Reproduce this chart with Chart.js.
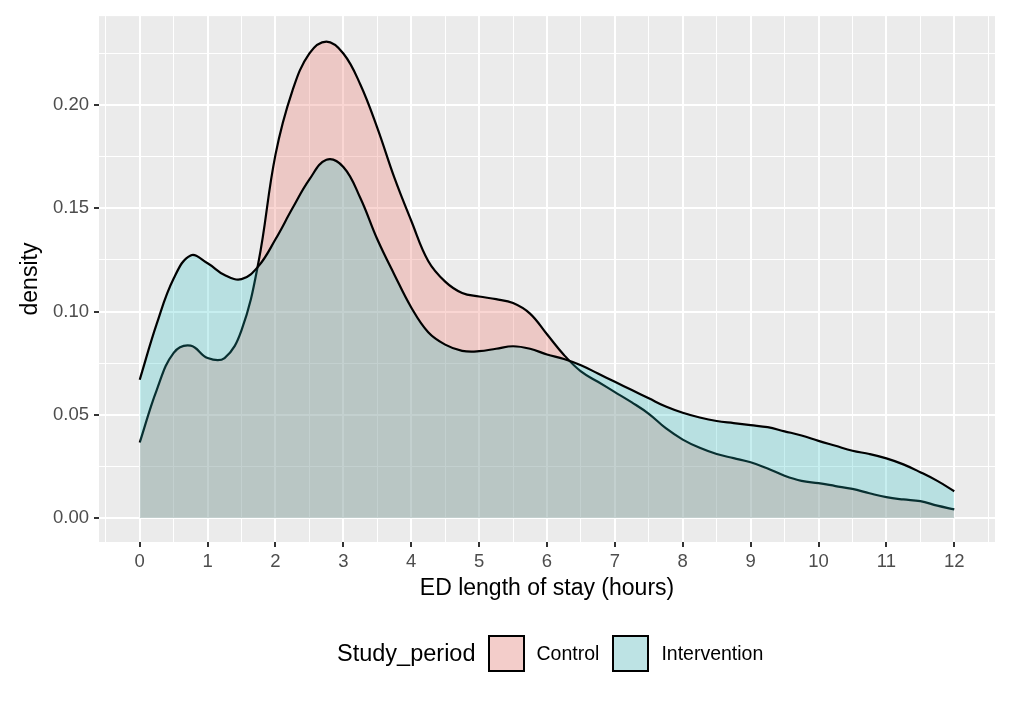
<!DOCTYPE html>
<html lang="en">
<head>
  <meta charset="UTF-8" />
  <title>ED length of stay density</title>
  <script src="https://cdn.jsdelivr.net/npm/chart.js"></script>
  <style>
    * { margin: 0; padding: 0; box-sizing: border-box; }
    body {
      background: #fff;
      width: 1023px;
      height: 707px;
      position: relative;
      font-family: 'Liberation Sans', Arial, sans-serif;
      overflow: hidden;
    }
    #chart { position: absolute; left: 0; top: 0; }
    .legend {
      position: absolute;
      top: 635px;
      left: 337px;
      height: 37px;
      display: flex;
      align-items: center;
      color: #000;
    }
    .legend .title { font-size: 23.5px; margin-right: 12px; }
    .legend .key {
      width: 37px;
      height: 37px;
      border: 2px solid #000;
      margin-right: 12px;
    }
    .legend .lab { font-size: 19.5px; margin-right: 13px; }
  </style>
</head>
<body>
  <canvas id="chart" width="1023" height="707"></canvas>
  <div class="legend">
    <span class="title">Study_period</span>
    <span class="key" style="background:#F3CDCA"></span>
    <span class="lab">Control</span>
    <span class="key" style="background:#BDE3E4"></span>
    <span class="lab">Intervention</span>
  </div>

  <script>
    const hours = [0, 0.25, 0.5, 0.75, 1, 1.25, 1.5, 1.75, 2, 2.25, 2.5, 2.75, 3, 3.25, 3.5, 3.75,
      4, 4.25, 4.5, 4.75, 5, 5.25, 5.5, 5.75, 6, 6.25, 6.5, 6.75, 7, 7.25, 7.5, 7.75,
      8, 8.25, 8.5, 8.75, 9, 9.25, 9.5, 9.75, 10, 10.25, 10.5, 10.75, 11, 11.25, 11.5, 11.75, 12];

    const controlDensity = [0.0366, 0.062, 0.080, 0.0835, 0.0775, 0.0775, 0.091, 0.124, 0.176, 0.207, 0.225, 0.2307, 0.225, 0.210, 0.189, 0.165,
      0.144, 0.1245, 0.1145, 0.109, 0.1073, 0.106, 0.1041, 0.099, 0.089, 0.079, 0.071, 0.066, 0.061, 0.056, 0.0505, 0.0435,
      0.038, 0.034, 0.031, 0.029, 0.027, 0.024, 0.0205, 0.018, 0.0169, 0.0155, 0.0141, 0.012, 0.0101, 0.009, 0.0082, 0.006, 0.0042];

    const interventionDensity = [0.067, 0.094, 0.116, 0.1272, 0.1234, 0.1177, 0.1157, 0.122, 0.135, 0.150, 0.164, 0.1735, 0.170, 0.155, 0.135, 0.118,
      0.102, 0.090, 0.084, 0.081, 0.0808, 0.082, 0.0832, 0.082, 0.0792, 0.077, 0.074, 0.070, 0.066, 0.062, 0.058, 0.054,
      0.051, 0.0487, 0.047, 0.046, 0.045, 0.044, 0.042, 0.040, 0.0374, 0.035, 0.0326, 0.031, 0.0289, 0.026, 0.0222, 0.018, 0.013];

    // grid positions: majors get labels, half steps are minor lines
    const xTicks = [-0.5, 0, 0.5, 1, 1.5, 2, 2.5, 3, 3.5, 4, 4.5, 5, 5.5, 6, 6.5, 7, 7.5, 8, 8.5, 9, 9.5, 10, 10.5, 11, 11.5, 12, 12.5];
    const yTicks = [0, 0.025, 0.05, 0.075, 0.1, 0.125, 0.15, 0.175, 0.2, 0.225];

    const isMajorX = v => Math.abs(v - Math.round(v)) < 1e-9;
    const isMajorY = v => Math.abs(v * 20 - Math.round(v * 20)) < 1e-9;

    const toPoints = ys => hours.map((h, i) => ({ x: h, y: ys[i] }));
    const FONT = "'Liberation Sans', Arial, sans-serif";

    const panelBg = {
      id: 'panelBg',
      beforeDraw(chart) {
        const { ctx, chartArea: a } = chart;
        ctx.save();
        ctx.fillStyle = '#EBEBEB';
        ctx.fillRect(a.left, a.top, a.right - a.left, a.bottom - a.top);
        ctx.restore();
      }
    };

    new Chart(document.getElementById('chart'), {
      type: 'line',
      data: {
        datasets: [
          {
            label: 'Control',
            data: toPoints(controlDensity),
            borderColor: '#000',
            borderWidth: 2.2,
            backgroundColor: 'rgba(240,118,110,0.3)',
            fill: 'origin',
            pointRadius: 0,
            tension: 0.4,
            order: 2
          },
          {
            label: 'Intervention',
            data: toPoints(interventionDensity),
            borderColor: '#000',
            borderWidth: 2.2,
            backgroundColor: 'rgba(30,191,196,0.25)',
            fill: 'origin',
            pointRadius: 0,
            tension: 0.4,
            order: 1
          }
        ]
      },
      options: {
        responsive: false,
        animation: false,
        devicePixelRatio: 1,
        layout: { padding: { left: 0, top: 16, right: 28, bottom: 103 } },
        plugins: {
          legend: { display: false },
          tooltip: { enabled: false }
        },
        scales: {
          x: {
            type: 'linear',
            min: -0.6,
            max: 12.6,
            afterBuildTicks: s => { s.ticks = xTicks.map(v => ({ value: v })); },
            afterFit: s => { s.height = 62; },
            border: { display: false },
            grid: {
              color: '#FFFFFF',
              lineWidth: c => (isMajorX(c.tick.value) ? 2 : 1),
              tickLength: 5,
              tickColor: c => (isMajorX(c.tick.value) ? '#333333' : 'rgba(0,0,0,0)')
            },
            ticks: {
              autoSkip: false,
              maxRotation: 0,
              padding: 4,
              color: '#4D4D4D',
              font: { family: FONT, size: 18.5 },
              callback: v => (isMajorX(v) && v >= 0 && v <= 12 ? String(v) : '')
            },
            title: {
              display: true,
              text: 'ED length of stay (hours)',
              color: '#000',
              padding: { top: 0, bottom: 2 },
              font: { family: FONT, size: 23 }
            }
          },
          y: {
            type: 'linear',
            min: -0.0116,
            max: 0.2431,
            afterBuildTicks: s => { s.ticks = yTicks.map(v => ({ value: v })); },
            afterFit: s => { s.width = 99; },
            border: { display: false },
            grid: {
              color: '#FFFFFF',
              lineWidth: c => (isMajorY(c.tick.value) ? 2 : 1),
              tickLength: 5,
              tickColor: c => (isMajorY(c.tick.value) ? '#333333' : 'rgba(0,0,0,0)')
            },
            ticks: {
              autoSkip: false,
              padding: 5,
              color: '#4D4D4D',
              font: { family: FONT, size: 18.5 },
              callback: v => (isMajorY(v) ? v.toFixed(2) : '')
            },
            title: {
              display: true,
              text: 'density',
              color: '#000',
              padding: { top: 17, bottom: 0 },
              font: { family: FONT, size: 23 }
            }
          }
        }
      },
      plugins: [panelBg]
    });
  </script>
</body>
</html>
